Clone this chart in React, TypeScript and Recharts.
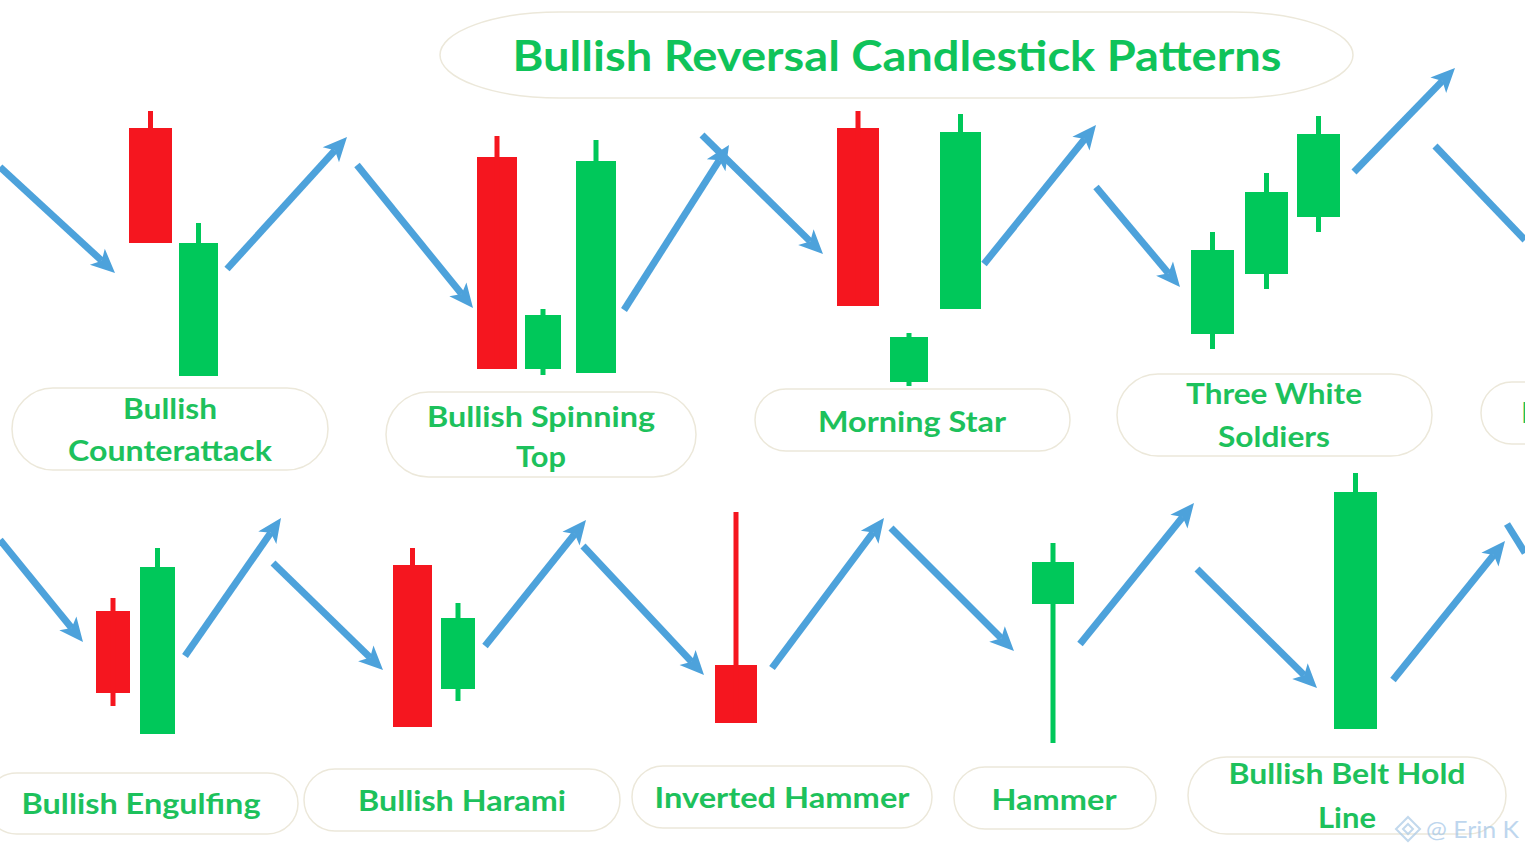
import React from "react";
import { ComposedChart, XAxis, YAxis, ReferenceArea, ReferenceLine } from "recharts";

const W = 1525;
const H = 857;

const RED = "#F5161F";
const GREEN = "#00C85A";
const BLUE = "#4DA2DB";
const LABEL_GREEN = "#1DC15C";
const OUTLINE = "#ECE8DA";

// candles: time span (start/end) and OHLC in price units (price grows upwards)
const candleStart = [129, 179, 477, 525, 576, 837, 890, 940, 1191, 1245, 1297, 96, 140, 393, 441, 715, 1032, 1334];
const candleEnd = [172, 218, 517, 561, 616, 879, 928, 981, 1234, 1288, 1340, 130, 175, 432, 475, 757, 1074, 1377];
const candleOpen = [729, 481, 700, 488, 484, 729, 475, 548, 523, 583, 640, 246, 123, 292, 168, 192, 253, 128];
const candleHigh = [746, 634, 721, 548, 717, 746, 524, 743, 625, 684, 741, 259, 309, 309, 254, 345, 314, 384];
const candleLow = [614, 481, 488, 482, 484, 551, 471, 548, 508, 568, 625, 151, 123, 130, 156, 134, 114, 128];
const candleClose = [614, 614, 488, 542, 696, 551, 520, 725, 607, 665, 723, 164, 290, 130, 239, 134, 295, 365];

// trend arrows: [time, price] start and end
const trendFrom = [
  [0, 690], [227, 588], [357, 692], [624, 547], [702, 722], [984, 593], [1096, 670], [1354, 685], [1435, 711],
  [0, 317], [185, 201], [273, 294], [485, 211], [583, 311], [772, 189], [891, 329], [1080, 213], [1197, 288], [1393, 177], [1507, 333],
];
const trendTo = [
  [115, 584], [347, 720], [473, 549], [729, 712], [823, 603], [1096, 732], [1180, 570], [1455, 789], [1525, 617],
  [83, 215], [281, 339], [383, 187], [586, 337], [704, 182], [884, 339], [1014, 206], [1194, 354], [1317, 169], [1505, 316], [1525, 304],
];
const trendHead = [true, true, true, true, true, true, true, true, false, true, true, true, true, true, true, true, true, true, true, false];

const title = "Bullish Reversal Candlestick Patterns";
const patternLines = [
  ["Bullish", "Counterattack"],
  ["Bullish Spinning", "Top"],
  ["Morning Star"],
  ["Three White", "Soldiers"],
  ["Piercing Line"],
  ["Bullish Engulfing"],
  ["Bullish Harami"],
  ["Inverted Hammer"],
  ["Hammer"],
  ["Bullish Belt Hold", "Line"],
];

// label layout: box [left, top, right, bottom] in pixels, text centre offset, baselines, text widths
const labelLayout = [
  { box: [12, 388, 328, 470], cx: 158, base: [31, 73], len: [94, 204] },
  { box: [386, 392, 696, 477], cx: 155, base: [35, 75], len: [228, 50] },
  { box: [755, 389, 1070, 451], cx: 157, base: [43], len: [188] },
  { box: [1117, 374, 1432, 456], cx: 157, base: [30, 73], len: [176, 112] },
  { box: [1481, 382, 1800, 444], cx: 130, base: [41], len: [180] },
  { box: [-14, 773, 298, 834], cx: 155, base: [41], len: [239] },
  { box: [304, 769, 620, 831], cx: 158, base: [42], len: [208] },
  { box: [632, 766, 932, 828], cx: 150, base: [42], len: [255] },
  { box: [954, 767, 1156, 829], cx: 100, base: [43], len: [125] },
  { box: [1188, 757, 1506, 834], cx: 159, base: [27, 71], len: [237, 58] },
];

const candles = candleStart.map((s, i) => ({
  start: s,
  end: candleEnd[i],
  open: candleOpen[i],
  high: candleHigh[i],
  low: candleLow[i],
  close: candleClose[i],
}));

const ArrowShape = (props: any) => {
  const { x1, y1, x2, y2, head } = props;
  const dx = x2 - x1;
  const dy = y2 - y1;
  const len = Math.sqrt(dx * dx + dy * dy);
  const ux = dx / len;
  const uy = dy / len;
  const hl = head ? 24 : 0;
  const hw = 11;
  const bx = x2 - ux * hl;
  const by = y2 - uy * hl;
  const nx = x2 - ux * hl * 0.75;
  const ny = y2 - uy * hl * 0.75;
  return (
    <g>
      <line x1={x1} y1={y1} x2={head ? nx : x2} y2={head ? ny : y2} stroke={BLUE} strokeWidth={7} />
      {head && (
        <polygon
          points={`${x2},${y2} ${bx - uy * hw},${by + ux * hw} ${nx},${ny} ${bx + uy * hw},${by - ux * hw}`}
          fill={BLUE}
        />
      )}
    </g>
  );
};

const LabelShape = (props: any) => {
  const { x, y, width, height, lines, layout } = props;
  return (
    <g>
      <rect x={x} y={y} width={width} height={height} rx={height / 2} ry={height / 2} fill="#fff" stroke={OUTLINE} strokeWidth={1.5} />
      {lines.map((t: string, i: number) => (
        <text
          key={t}
          x={x + layout.cx}
          y={y + layout.base[i]}
          textAnchor="middle"
          fontFamily="Lato, sans-serif"
          fontWeight={700}
          fontSize={28}
          fill={LABEL_GREEN}
          textLength={layout.len[i]}
          lengthAdjust="spacingAndGlyphs"
        >
          {t}
        </text>
      ))}
    </g>
  );
};

const TitleShape = (props: any) => {
  const { x, y, width, height } = props;
  return (
    <g>
      <rect x={x} y={y} width={width} height={height} rx={120} ry={height / 2} fill="#fff" stroke={OUTLINE} strokeWidth={1.5} />
      <text
        x={x + width / 2 + 0.5}
        y={y + 59}
        textAnchor="middle"
        fontFamily="Lato, sans-serif"
        fontWeight={700}
        fontSize={42}
        fill="#0FC35A"
        textLength={769}
        lengthAdjust="spacingAndGlyphs"
      >
        {title}
      </text>
    </g>
  );
};

const WatermarkShape = (props: any) => {
  const { x, y } = props;
  return (
    <g opacity={0.7}>
      <path
        d={`M${x + 16},${y + 2} l12,12 l-12,12 l-12,-12 z M${x + 16},${y + 9} l5,5 l-5,5 l-5,-5 z`}
        fill="none"
        stroke="#A9C9E6"
        strokeWidth={2}
      />
      <text
        x={x + 34}
        y={y + 23}
        fontFamily="Lato, sans-serif"
        fontWeight={400}
        fontSize={24}
        fill="#A3C6E8"
        textLength={93}
        lengthAdjust="spacingAndGlyphs"
      >
        @ Erin K
      </text>
    </g>
  );
};

export default function App() {
  return (
    <div style={{ position: "fixed", left: 0, top: 0, width: W, height: H, background: "#fff" }}>
      <ComposedChart width={W} height={H} data={[]} margin={{ top: 0, right: 0, bottom: 0, left: 0 }}>
        <XAxis type="number" dataKey="t" domain={[0, W]} hide allowDataOverflow />
        <YAxis type="number" domain={[0, H]} hide allowDataOverflow />

        <ReferenceArea
          x1={440}
          x2={1353}
          y1={H - 98}
          y2={H - 12}
          ifOverflow="visible"
          shape={(p: any) => <TitleShape {...p} />}
        />

        {patternLines.map((lines, i) => {
          const lay = labelLayout[i];
          return (
            <ReferenceArea
              key={"lab" + i}
              x1={lay.box[0]}
              x2={lay.box[2]}
              y1={H - lay.box[3]}
              y2={H - lay.box[1]}
              ifOverflow="visible"
              shape={(p: any) => <LabelShape {...p} lines={lines} layout={lay} />}
            />
          );
        })}

        {trendFrom.map((f, i) => (
          <ReferenceLine
            key={"tr" + i}
            segment={[
              { x: f[0], y: f[1] },
              { x: trendTo[i][0], y: trendTo[i][1] },
            ]}
            ifOverflow="visible"
            shape={(p: any) => <ArrowShape {...p} head={trendHead[i]} />}
          />
        ))}

        {candles.map((c, i) => {
          const color = c.close >= c.open ? GREEN : RED;
          const mid = (c.start + c.end) / 2;
          return (
            <ReferenceLine
              key={"wick" + i}
              segment={[
                { x: mid, y: c.low },
                { x: mid, y: c.high },
              ]}
              stroke={color}
              strokeWidth={5}
              ifOverflow="visible"
            />
          );
        })}
        {candles.map((c, i) => {
          const color = c.close >= c.open ? GREEN : RED;
          return (
            <ReferenceArea
              key={"body" + i}
              x1={c.start}
              x2={c.end}
              y1={Math.min(c.open, c.close)}
              y2={Math.max(c.open, c.close)}
              fill={color}
              fillOpacity={1}
              stroke="none"
              ifOverflow="visible"
            />
          );
        })}

        <ReferenceArea
          x1={1392}
          x2={1522}
          y1={H - 846}
          y2={H - 815}
          ifOverflow="visible"
          shape={(p: any) => <WatermarkShape {...p} />}
        />
      </ComposedChart>
    </div>
  );
}
